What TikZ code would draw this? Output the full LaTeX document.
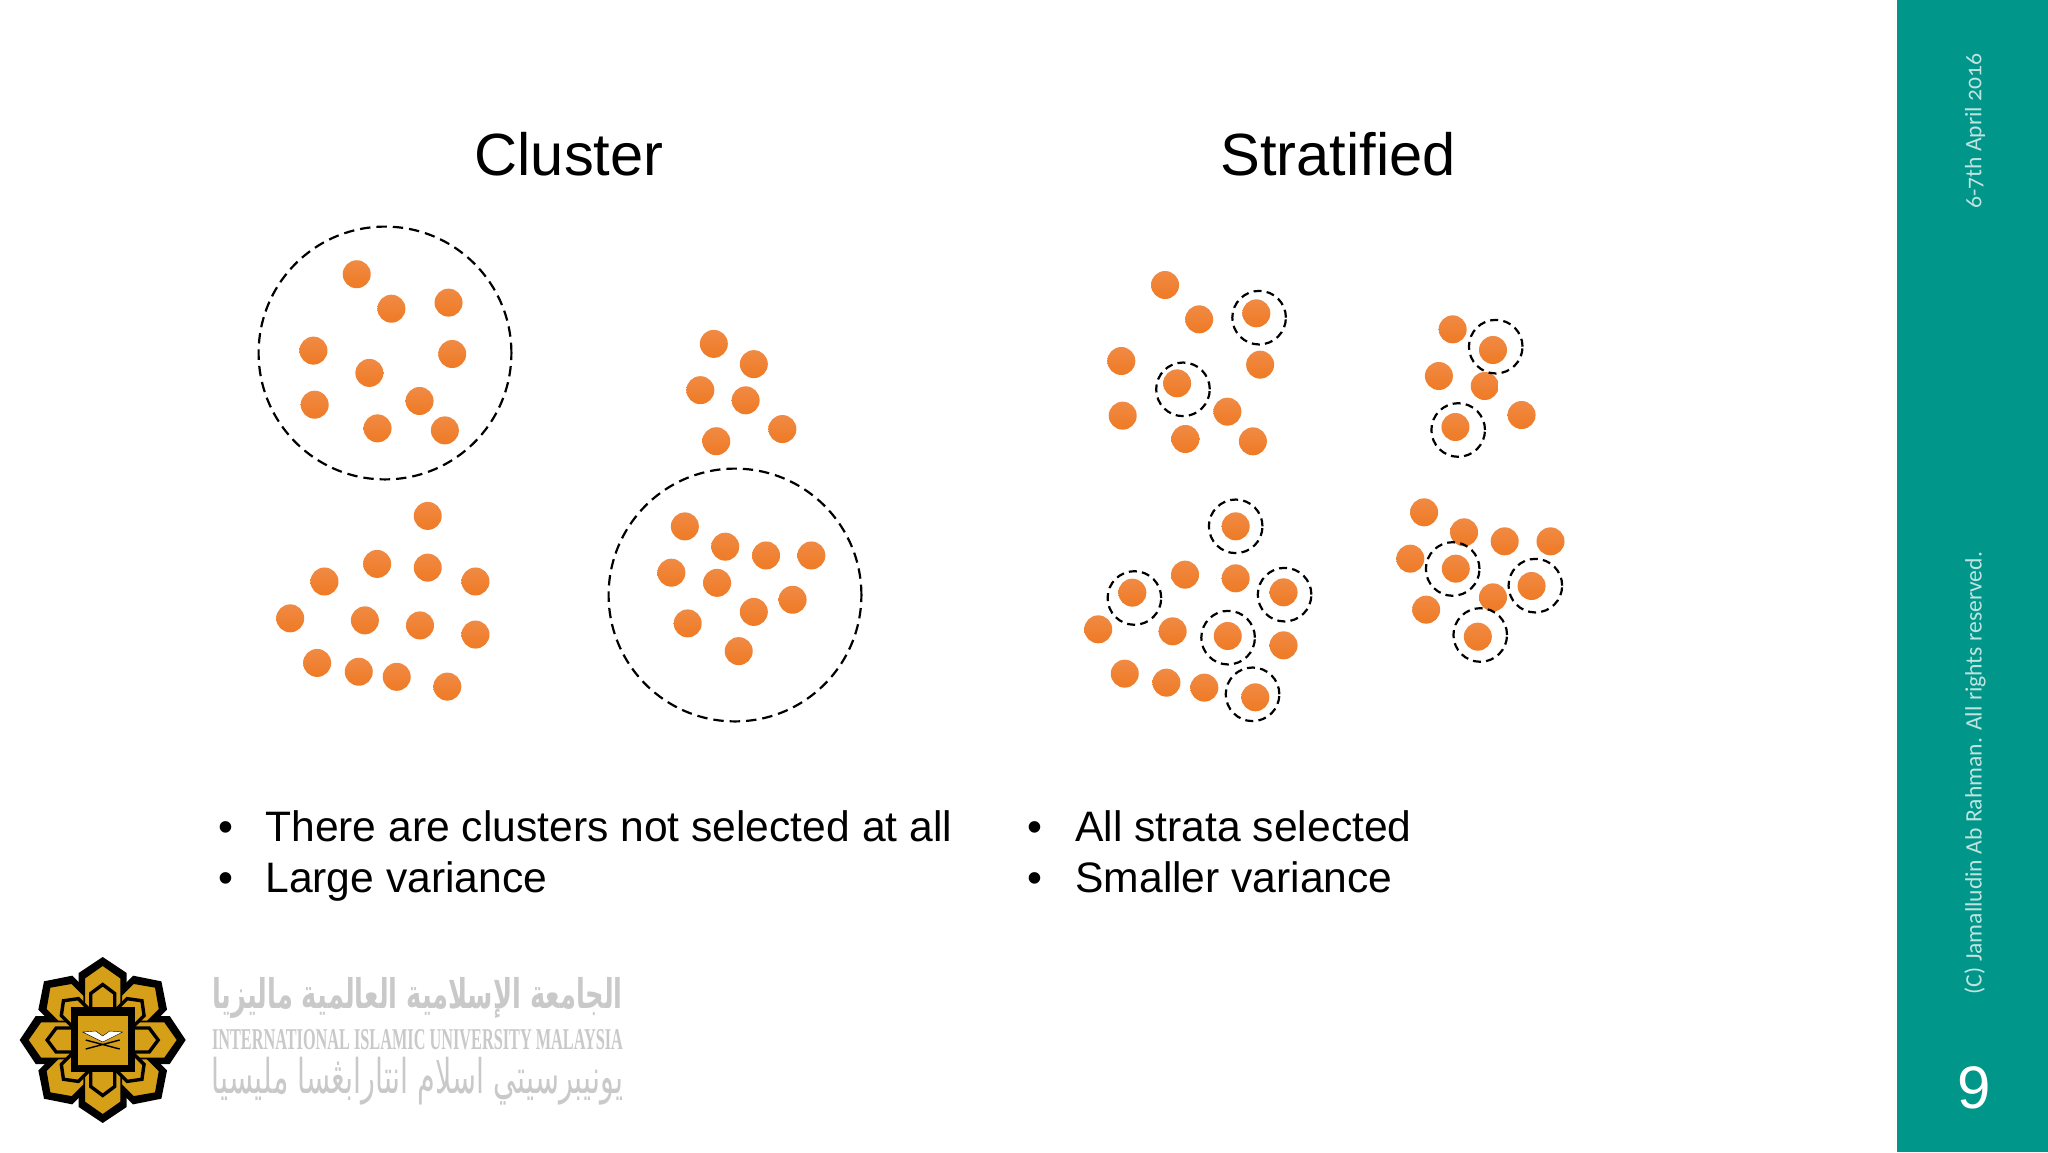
\documentclass[tikz,border=0pt]{standalone}
\usepackage{fontspec}
\usepackage{graphicx}
\setmainfont{Liberation Sans}
\newfontfamily\barfont[Numbers=OldStyle]{Carlito}
\newfontfamily\arabicfont[Script=Arabic]{DejaVu Sans}
\newfontfamily\crestserif{Liberation Serif}
\TeXXeTstate=1
\definecolor{barteal}{HTML}{00968A}
\definecolor{barlabel}{HTML}{BFE4E0}
\definecolor{dottop}{HTML}{F08A44}
\definecolor{dotbot}{HTML}{EF7A24}
\definecolor{crestgold}{HTML}{D69F18}
\definecolor{crestgrey}{HTML}{C9C9C9}
\tikzset{
  titlelabel/.style={font=\fontsize{29.8pt}{34pt}\selectfont,text=black,inner sep=0pt},
  bulletlabel/.style={font=\fontsize{21.3pt}{25pt}\selectfont,text=black,inner sep=0pt,anchor=base west},
  sidelabel/.style={font=\barfont\fontsize{11.8pt}{13pt}\selectfont,text=barlabel,inner sep=0pt,rotate=90},
  bigring/.style={draw=black,line width=1.1pt,dash pattern=on 5.2pt off 3pt},
  smallring/.style={draw=black,line width=1.1pt,dash pattern=on 4pt off 2.6pt},
  orangedot/.style={top color=dottop,bottom color=dotbot,draw=none},
  zoomA/.style={shift={(240,210)},x=0.5pt/2.45,y=-0.5pt/2.958},
  zoomB/.style={shift={(1060,250)},x=0.5pt/2.903,y=-0.5pt/3},
  crestscope/.style={shift={(102.7,1040)}},
}
\begin{document}
\begin{tikzpicture}[x=0.5pt,y=-0.5pt]
\useasboundingbox (0,0) rectangle (2048,1152);
\fill[white] (0,0) rectangle (2048,1152);
\fill[barteal] (1897,0) rectangle (2048,1152);
\node[sidelabel] (date) at (1975,131) {6-7th April 2016};
\node[sidelabel] (copy) at (1975,773) {(C) Jamalludin Ab Rahman. All rights reserved.};
\node[font=\fontsize{30pt}{34pt}\selectfont,text=white,inner sep=0pt] (page) at (1974,1088) {9};

\node[titlelabel] (ctitle) at (569,154) {Cluster};
\node[titlelabel] (stitle) at (1338,154) {Stratified};

\node[bulletlabel] (b1) at (218,841) {•};
\node[bulletlabel] (c1) at (265,841) {There are clusters not selected at all};
\node[bulletlabel] (b2) at (218,892) {•};
\node[bulletlabel] (c2) at (265,892) {Large variance};
\node[bulletlabel] (b3) at (1027,841) {•};
\node[bulletlabel] (s1) at (1075,841) {All strata selected};
\node[bulletlabel] (b4) at (1027,892) {•};
\node[bulletlabel] (s2) at (1075,892) {Smaller variance};

% cluster dots
\begin{scope}[zoomA]
\foreach \px/\py in {286/190,371/292,511/274,180/416,520/426,317/482,183/576,440/565,337/646,502/652,
 1161/396,1259/456,1128/533,1239/563,1329/648,1167/684,
 460/905,336/1047,460/1058,207/1099,577/1099,123/1208,306/1214,441/1229,577/1256,189/1340,291/1366,384/1381,508/1410,
 1090/936,1189/996,1289/1022,1400/1022,1057/1073,1169/1103,1354/1153,1259/1189,1097/1223,1222/1305}
  \shade[orangedot] (\px,\py) circle[radius=7pt];
\end{scope}
\draw[bigring] (385,353) circle[radius=63.2pt];
\draw[bigring] (735,595) circle[radius=63.2pt];

% stratified dots
\begin{scope}[zoomB]
\foreach \px/\py in {305/105,404/208,570/190,178/333,581/344,340/400,182/497,486/485,364/567,560/574,
 1140/238,1257/300,1100/378,1233/408,1340/495,1148/531,
 510/829,363/974,510/985,210/1028,649/1027,111/1138,327/1144,487/1158,649/1186,188/1271,309/1298,419/1313,567/1342,
 1057/787,1173/847,1291/874,1424/874,1017/926,1149/956,1369/1008,1257/1042,1063/1079,1213/1160}
  \shade[orangedot] (\px,\py) circle[radius=7pt];
\foreach \px/\py in {578/203,357/418,1265/290,1156/540,510/829,216/1044,652/1034,488/1163,559/1333,1140/957,1380/1007,1220/1155}
  \draw[smallring] (\px,\py) circle[radius=13.4pt];
\end{scope}

% crest
\foreach \a in {45,135,225,315,0,90,180,270}{
  \begin{scope}[crestscope,rotate=\a]
  \fill[black] (-24,-25) -- (-24,-67) -- (0,-83) -- (24,-67) -- (24,-25) -- cycle;
  \end{scope}}
\foreach \a in {45,135,225,315,0,90,180,270}{
  \begin{scope}[crestscope,rotate=\a]
  \filldraw[fill=crestgold,draw=black,line width=0.8pt,line join=miter] (-18.5,-20) -- (-18.5,-62) -- (0,-75) -- (18.5,-62) -- (18.5,-20) -- cycle;
  \end{scope}}
\foreach \a in {45,135,225,315,0,90,180,270}{
  \begin{scope}[crestscope,rotate=\a]
  \filldraw[fill=crestgold,draw=black,line width=1.7pt,line join=miter] (-12,-20) -- (-12,-46.5) -- (0,-55.5) -- (12,-46.5) -- (12,-20) -- cycle;
  \end{scope}}
\begin{scope}[crestscope]
\fill[black] (-32,-32.7) rectangle (32,32);
\fill[crestgold] (-25,-24.3) rectangle (25,25);
\draw[black,line width=0.7pt] (-17,9) -- (17,0) (17,9) -- (-17,0);
\fill[white,draw=black,line width=0.2pt] (-20,-8) -- (-7,-9) -- (0,-4) -- (7,-9) -- (20,-8) -- (0,2) -- cycle;
\end{scope}

% university wordmark
\node[inner sep=0pt,text=crestgrey] (wm1) at (417.5,998) {\resizebox*{205.5pt}{20.5pt}{\arabicfont\bfseries\beginR الجامعة الإسلامية العالمية ماليزيا\endR}};
\node[inner sep=0pt,text=crestgrey] (wm2) at (417.5,1040) {\resizebox{205.5pt}{10pt}{\crestserif\bfseries INTERNATIONAL ISLAMIC UNIVERSITY MALAYSIA}};
\node[inner sep=0pt,text=crestgrey] (wm3) at (417.5,1081) {\resizebox*{205.5pt}{24pt}{\arabicfont\beginR يونيبرسيتي اسلام انتارابڠسا مليسيا\endR}};
\end{tikzpicture}
\end{document}
